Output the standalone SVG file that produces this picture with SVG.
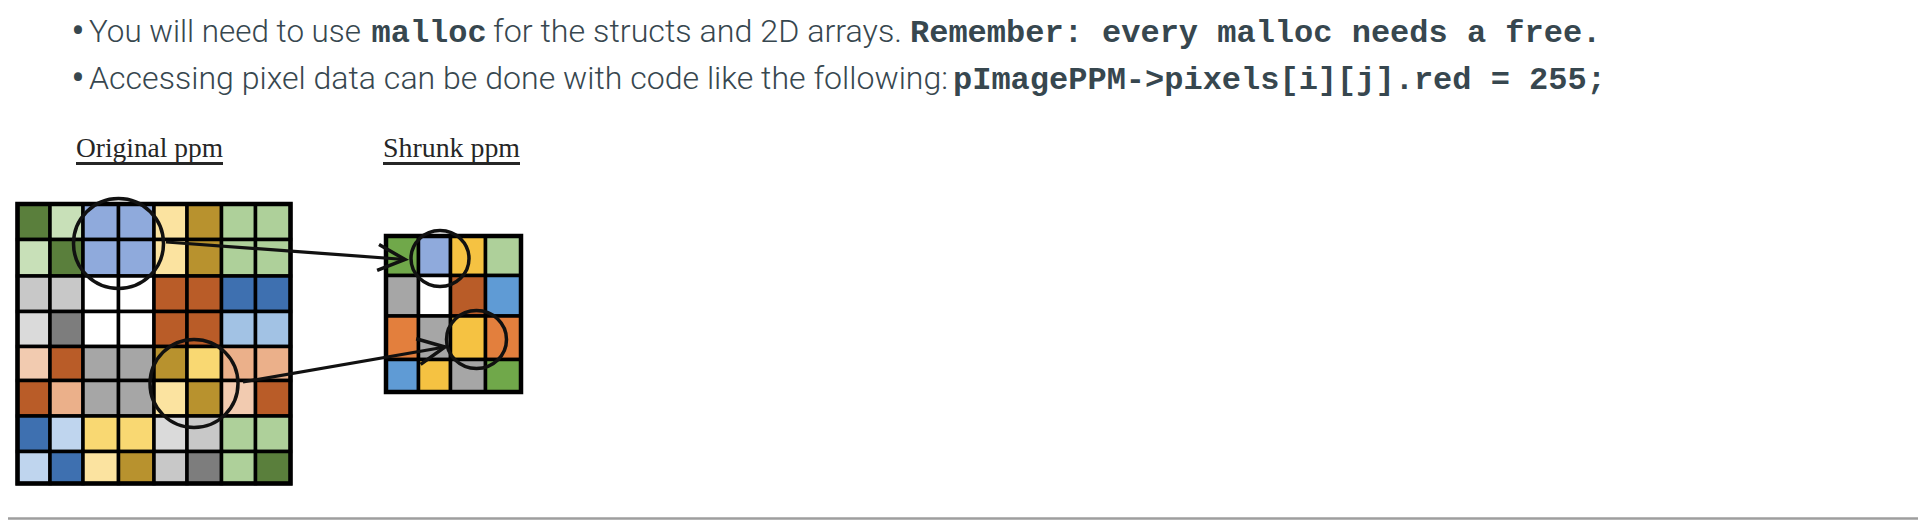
<svg xmlns="http://www.w3.org/2000/svg" width="1926" height="520" viewBox="0 0 1926 520">
<style>
.body{font-family:Roboto,"Liberation Sans",sans-serif;font-weight:300;font-size:32px;fill:#37474f}
.bullet{font-family:Roboto,"Liberation Sans",sans-serif;font-weight:400;font-size:40px;fill:#37474f}
.code{font-family:"Liberation Mono","DejaVu Sans Mono",monospace;font-weight:bold;font-size:32px;fill:#37474f}
.lbl{font-family:"Liberation Serif","DejaVu Serif",serif;font-size:28px;fill:#262626}
.ul{stroke:#262626;stroke-width:3}
.cell{stroke:#000;stroke-width:3.5}
.ring{fill:none;stroke:#111;stroke-width:3.5}
.conn{fill:none;stroke:#111;stroke-width:3.2}
.dg{fill:#5a7f3c}.lg1{fill:#c8e0b8}.lg2{fill:#aed09a}.bl{fill:#8faadc}.ly{fill:#fbe3a0}.gd{fill:#b8922e}
.yl{fill:#f9d872}.ru{fill:#b95c28}.db{fill:#3e70b0}.lb1{fill:#a2c2e4}.lb2{fill:#bfd5ee}
.g1{fill:#c8c8c8}.g2{fill:#dadada}.g3{fill:#7d7d7d}.g4{fill:#a6a6a6}.pe1{fill:#f2cbb0}.pe2{fill:#ebb08a}.wh{fill:#fff}
.sg{fill:#70a84a}.so{fill:#f5c242}.or{fill:#e37f3d}.sb{fill:#5f9bd5}
</style>
<defs>
<marker id="vhead" markerUnits="userSpaceOnUse" markerWidth="44" markerHeight="44" viewBox="-34 -22 44 44" refX="0" refY="0" orient="auto">
<path d="M -27 -13 L 0 0 L -27 13" fill="none" stroke="#111" stroke-width="3.5"/>
</marker>
</defs>
<rect width="1926" height="520" fill="#fff"/>
<g id="text">
<text class="bullet" x="78" y="45" text-anchor="middle">•</text>
<text class="body" x="89" y="42" textLength="272" lengthAdjust="spacingAndGlyphs">You will need to use</text>
<text class="code" x="371.5" y="42">malloc</text>
<text class="body" x="493" y="42" textLength="409" lengthAdjust="spacingAndGlyphs">for the structs and 2D arrays.</text>
<text class="code" x="910" y="42">Remember: every malloc needs a free.</text>
<text class="bullet" x="78" y="92" text-anchor="middle">•</text>
<text class="body" x="89" y="89" textLength="859" lengthAdjust="spacingAndGlyphs">Accessing pixel data can be done with code like the following:</text>
<text class="code" x="953" y="89">pImagePPM-&gt;pixels[i][j].red = 255;</text>
</g>
<g id="label-original">
<text class="lbl" x="76" y="157" textLength="147" lengthAdjust="spacingAndGlyphs">Original ppm</text>
<line class="ul" x1="76" y1="163.5" x2="223" y2="163.5"/>
</g>
<g id="label-shrunk">
<text class="lbl" x="383" y="157" textLength="137" lengthAdjust="spacingAndGlyphs">Shrunk ppm</text>
<line class="ul" x1="383" y1="163.5" x2="520" y2="163.5"/>
</g>
<g id="original-grid">
<rect class="cell dg" x="17.5" y="204" width="32.5" height="35.5"/>
<rect class="cell lg1" x="50" y="204" width="33" height="35.5"/>
<rect class="cell bl" x="83" y="204" width="35.5" height="35.5"/>
<rect class="cell bl" x="118.5" y="204" width="35.5" height="35.5"/>
<rect class="cell ly" x="154" y="204" width="33" height="35.5"/>
<rect class="cell gd" x="187" y="204" width="34.5" height="35.5"/>
<rect class="cell lg2" x="221.5" y="204" width="34" height="35.5"/>
<rect class="cell lg2" x="255.5" y="204" width="35" height="35.5"/>

<rect class="cell lg1" x="17.5" y="239.5" width="32.5" height="36.5"/>
<rect class="cell dg" x="50" y="239.5" width="33" height="36.5"/>
<rect class="cell bl" x="83" y="239.5" width="35.5" height="36.5"/>
<rect class="cell bl" x="118.5" y="239.5" width="35.5" height="36.5"/>
<rect class="cell ly" x="154" y="239.5" width="33" height="36.5"/>
<rect class="cell gd" x="187" y="239.5" width="34.5" height="36.5"/>
<rect class="cell lg2" x="221.5" y="239.5" width="34" height="36.5"/>
<rect class="cell lg2" x="255.5" y="239.5" width="35" height="36.5"/>

<rect class="cell g1" x="17.5" y="276" width="32.5" height="35.5"/>
<rect class="cell g1" x="50" y="276" width="33" height="35.5"/>
<rect class="cell wh" x="83" y="276" width="35.5" height="35.5"/>
<rect class="cell wh" x="118.5" y="276" width="35.5" height="35.5"/>
<rect class="cell ru" x="154" y="276" width="33" height="35.5"/>
<rect class="cell ru" x="187" y="276" width="34.5" height="35.5"/>
<rect class="cell db" x="221.5" y="276" width="34" height="35.5"/>
<rect class="cell db" x="255.5" y="276" width="35" height="35.5"/>

<rect class="cell g2" x="17.5" y="311.5" width="32.5" height="35"/>
<rect class="cell g3" x="50" y="311.5" width="33" height="35"/>
<rect class="cell wh" x="83" y="311.5" width="35.5" height="35"/>
<rect class="cell wh" x="118.5" y="311.5" width="35.5" height="35"/>
<rect class="cell ru" x="154" y="311.5" width="33" height="35"/>
<rect class="cell ru" x="187" y="311.5" width="34.5" height="35"/>
<rect class="cell lb1" x="221.5" y="311.5" width="34" height="35"/>
<rect class="cell lb1" x="255.5" y="311.5" width="35" height="35"/>

<rect class="cell pe1" x="17.5" y="346.5" width="32.5" height="34"/>
<rect class="cell ru" x="50" y="346.5" width="33" height="34"/>
<rect class="cell g4" x="83" y="346.5" width="35.5" height="34"/>
<rect class="cell g4" x="118.5" y="346.5" width="35.5" height="34"/>
<rect class="cell gd" x="154" y="346.5" width="33" height="34"/>
<rect class="cell yl" x="187" y="346.5" width="34.5" height="34"/>
<rect class="cell pe2" x="221.5" y="346.5" width="34" height="34"/>
<rect class="cell pe2" x="255.5" y="346.5" width="35" height="34"/>

<rect class="cell ru" x="17.5" y="380.5" width="32.5" height="35.5"/>
<rect class="cell pe2" x="50" y="380.5" width="33" height="35.5"/>
<rect class="cell g4" x="83" y="380.5" width="35.5" height="35.5"/>
<rect class="cell g4" x="118.5" y="380.5" width="35.5" height="35.5"/>
<rect class="cell ly" x="154" y="380.5" width="33" height="35.5"/>
<rect class="cell gd" x="187" y="380.5" width="34.5" height="35.5"/>
<rect class="cell pe1" x="221.5" y="380.5" width="34" height="35.5"/>
<rect class="cell ru" x="255.5" y="380.5" width="35" height="35.5"/>

<rect class="cell db" x="17.5" y="416" width="32.5" height="35.5"/>
<rect class="cell lb2" x="50" y="416" width="33" height="35.5"/>
<rect class="cell yl" x="83" y="416" width="35.5" height="35.5"/>
<rect class="cell yl" x="118.5" y="416" width="35.5" height="35.5"/>
<rect class="cell g2" x="154" y="416" width="33" height="35.5"/>
<rect class="cell g1" x="187" y="416" width="34.5" height="35.5"/>
<rect class="cell lg2" x="221.5" y="416" width="34" height="35.5"/>
<rect class="cell lg2" x="255.5" y="416" width="35" height="35.5"/>

<rect class="cell lb2" x="17.5" y="451.5" width="32.5" height="32"/>
<rect class="cell db" x="50" y="451.5" width="33" height="32"/>
<rect class="cell ly" x="83" y="451.5" width="35.5" height="32"/>
<rect class="cell gd" x="118.5" y="451.5" width="35.5" height="32"/>
<rect class="cell g1" x="154" y="451.5" width="33" height="32"/>
<rect class="cell g3" x="187" y="451.5" width="34.5" height="32"/>
<rect class="cell lg2" x="221.5" y="451.5" width="34" height="32"/>
<rect class="cell dg" x="255.5" y="451.5" width="35" height="32"/>
<rect x="17.5" y="204" width="273" height="279.5" fill="none" stroke="#000" stroke-width="4.5"/>
</g>
<g id="shrunk-grid">
<rect class="cell sg" x="386" y="236" width="32.5" height="39.5"/>
<rect class="cell bl" x="418.5" y="236" width="32" height="39.5"/>
<rect class="cell so" x="450.5" y="236" width="35" height="39.5"/>
<rect class="cell lg2" x="485.5" y="236" width="35.5" height="39.5"/>

<rect class="cell g4" x="386" y="275.5" width="32.5" height="40.5"/>
<rect class="cell wh" x="418.5" y="275.5" width="32" height="40.5"/>
<rect class="cell ru" x="450.5" y="275.5" width="35" height="40.5"/>
<rect class="cell sb" x="485.5" y="275.5" width="35.5" height="40.5"/>

<rect class="cell or" x="386" y="316" width="32.5" height="43.5"/>
<rect class="cell g4" x="418.5" y="316" width="32" height="43.5"/>
<rect class="cell so" x="450.5" y="316" width="35" height="43.5"/>
<rect class="cell or" x="485.5" y="316" width="35.5" height="43.5"/>

<rect class="cell sb" x="386" y="359.5" width="32.5" height="32.5"/>
<rect class="cell so" x="418.5" y="359.5" width="32" height="32.5"/>
<rect class="cell g4" x="450.5" y="359.5" width="35" height="32.5"/>
<rect class="cell sg" x="485.5" y="359.5" width="35.5" height="32.5"/>
<rect x="386" y="236" width="135" height="156" fill="none" stroke="#000" stroke-width="4.5"/>
</g>
<g id="highlights">
<circle class="ring" cx="118.5" cy="243.5" r="45"/>
<circle class="ring" cx="194" cy="383.5" r="44"/>
<ellipse class="ring" cx="440" cy="258.5" rx="29" ry="28"/>
<ellipse class="ring" cx="476.5" cy="339.5" rx="30" ry="29"/>
</g>
<g id="connectors">
<line class="conn" x1="166" y1="242" x2="405" y2="259.5" marker-end="url(#vhead)"/>
<line class="conn" x1="243" y1="382" x2="445" y2="347" marker-end="url(#vhead)"/>
</g>
<line x1="8" y1="518.5" x2="1918" y2="518.5" stroke="#9e9e9e" stroke-width="2.5"/>
</svg>
